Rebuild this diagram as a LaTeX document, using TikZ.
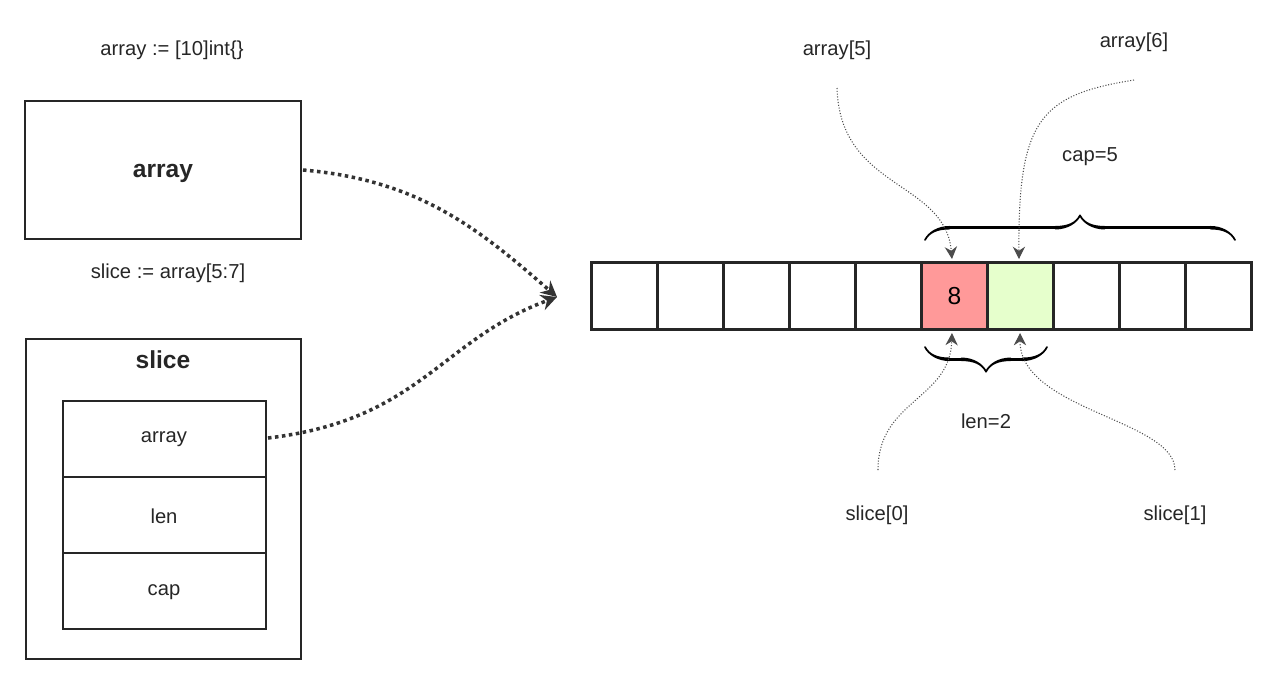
\documentclass[tikz,border=0pt]{standalone}
\usepackage{fontspec}
\setmainfont{Liberation Sans}
\usetikzlibrary{arrows.meta,decorations.pathreplacing,calligraphy}
\begin{document}
\begin{tikzpicture}[x=0.02cm,y=-0.02cm,
  box/.style={draw=black!85,line width=1.6pt},
  cell/.style={draw=black!85,line width=1.6pt,minimum width=1.32cm,minimum height=1.34cm,inner sep=0,anchor=north west,font=\fontsize{14}{16}\selectfont},
  txt/.style={font=\fontsize{11.5}{14}\selectfont,text=black!85},
  btxt/.style={font=\fontsize{14}{16}\selectfont\bfseries,text=black!85},
  big/.style={-{Stealth[length=9pt,width=9pt]},line width=2pt,dotted,draw=black!80},
  thin/.style={-{Stealth[length=7pt,width=7pt]},line width=0.6pt,densely dotted,draw=black!70},
  br/.style={draw=black!85,line width=2pt,decorate,decoration={calligraphic brace,amplitude=14pt}}]
\useasboundingbox (0,0) rectangle (1282,684);
\node[txt] (t1) at (172,50) {array := [10]int\{\}};
\draw[box] (25,101) rectangle (301,239);
\node[btxt] (a) at (163,173) {array};
\node[txt] (t2) at (168,273) {slice := array[5:7]};
\draw[box] (26,339) rectangle (301,659);
\node[btxt] (s) at (163,360) {slice};
\draw[box] (63,401) rectangle (266,629);
\draw[box] (63,477) -- (266,477) (63,553) -- (266,553);
\node[txt] (sa) at (164,439) {array};
\node[txt] (sl) at (164,516) {len};
\node[txt] (sc) at (164,592) {cap};
\foreach \i in {0,...,9} \node[cell] (c\i) at (590+66*\i,261) {};
\node[cell,fill={rgb,255:red,255;green,153;blue,153}] (c5) at (920,261) {8};
\node[cell,fill={rgb,255:red,230;green,255;blue,204}] (c6) at (986,261) {};
\coordinate (tgt) at (557,297);
\draw[big] (303,170) .. controls (420,180) and (480,230) .. (tgt);
\draw[big] (268,438) .. controls (420,420) and (440,340) .. (tgt);
\draw[br] (925,240) -- node[pos=0.5] (bt) {} (1235,240);
\node[txt] (cap) at (1090,157) {cap=5};
\draw[br] (1047,347) -- (925,347);
\node[txt] (len) at (986,421) {len=2};
\node[txt] (a5) at (837,50) {array[5]};
\node[txt] (a6) at (1134,42) {array[6]};
\node[txt] (s0) at (877,515) {slice[0]};
\node[txt] (s1) at (1175,515) {slice[1]};
\coordinate (p5) at (837,88);
\coordinate (p6) at (1134,80);
\coordinate (q0) at (878,470);
\coordinate (q1) at (1175,470);
\draw[thin] (p5) .. controls (840,190) and (945,180) .. (952,259);
\draw[thin] (p6) .. controls (1040,95) and (1018,120) .. (1019,259);
\draw[thin] (q0) .. controls (878,400) and (950,400) .. (952,333);
\draw[thin] (q1) .. controls (1175,420) and (1020,410) .. (1020,333);
\end{tikzpicture}
\end{document}
